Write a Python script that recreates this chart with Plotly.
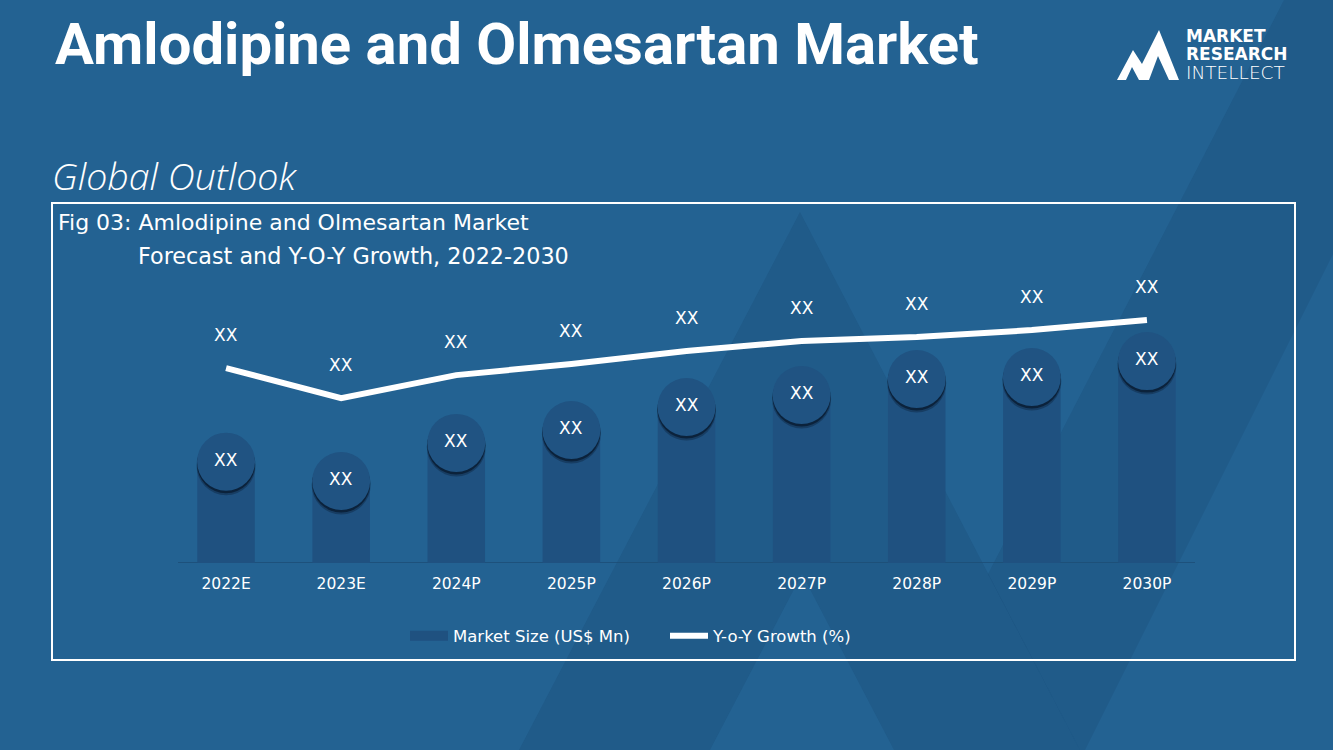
import plotly.graph_objects as go

# ---------------- data ----------------
categories = ["2022E", "2023E", "2024P", "2025P", "2026P", "2027P", "2028P", "2029P", "2030P"]
market_size = [3.62, 2.93, 4.29, 4.75, 5.57, 6.00, 6.57, 6.64, 7.21]
yoy_growth = [6.96, 5.89, 6.71, 7.11, 7.57, 7.93, 8.07, 8.32, 8.68]
bar_labels = ["XX", "XX", "XX", "XX", "XX", "XX", "XX", "XX", "XX"]
growth_labels = ["XX", "XX", "XX", "XX", "XX", "XX", "XX", "XX", "XX"]
series_names = ["Market Size (US$ Mn)", "Y-o-Y Growth (%)"]

W, H = 1333, 750
BG = "#236292"
BAR = "#1f5180"
CIRCLE = "#205382"
FONT = "DejaVu Sans"


def px(x):
    return x / W


def py(y):
    return 1 - y / H


fig = go.Figure()

fig.add_trace(go.Bar(
    x=categories, y=market_size, name=series_names[0], showlegend=False,
    marker=dict(color=BAR, line=dict(width=0)), width=0.5,
    hoverinfo="skip",
))
# legend proxy for the bars (wide flat swatch like the reference)
fig.add_trace(go.Scatter(
    x=[categories[0]], y=[None], name=series_names[0], mode="lines",
    line=dict(color=BAR, width=11), hoverinfo="skip",
))
fig.add_trace(go.Scatter(
    x=categories, y=yoy_growth, name=series_names[1], yaxis="y2",
    mode="lines", line=dict(color="white", width=6),
    hoverinfo="skip",
))

shapes = []


def poly(points):
    return "M " + " L ".join(f"{px(x):.5f},{py(y):.5f}" for x, y in points) + " Z"


# background decoration (watermark-like shapes)
shapes.append(dict(type="path", xref="paper", yref="paper", layer="below",
                   path=poly([(800, 212), (519, 750), (710, 750), (802, 574), (894, 750), (1080, 750)]),
                   fillcolor="rgba(10,30,60,0.10)", line=dict(width=0)))
shapes.append(dict(type="path", xref="paper", yref="paper", layer="below",
                   path=poly([(1284, 0), (1333, 0), (1333, 254), (1085, 750), (1080, 750), (988, 574)]),
                   fillcolor="rgba(10,30,60,0.10)", line=dict(width=0)))

# frame
shapes.append(dict(type="rect", xref="paper", yref="paper", layer="below",
                   x0=px(52), x1=px(1295), y0=py(660), y1=py(203),
                   line=dict(color="white", width=2), fillcolor="rgba(0,0,0,0)"))

# baseline
shapes.append(dict(type="line", xref="paper", yref="y", layer="below",
                   x0=px(178), x1=px(1195), y0=0, y1=0,
                   line=dict(color="#1d4c75", width=1.5)))

# logo mark
shapes.append(dict(type="path", xref="paper", yref="paper",
                   path=poly([(1117, 80), (1133, 50), (1142, 64), (1159, 30), (1179, 80), (1169, 80),
                              (1158, 56), (1149, 80), (1139, 80), (1132, 67), (1126, 80)]),
                   fillcolor="white", line=dict(width=0)))

# circles on top of bars (with a soft shadow)
for c, v in zip(categories, market_size):
    shapes.append(dict(type="circle", xref="x", yref="y", xsizemode="pixel", ysizemode="pixel",
                       xanchor=c, yanchor=v, x0=-29.5, x1=29.5, y0=-33.5, y1=25.5,
                       fillcolor="rgba(8,25,45,0.35)", line=dict(width=0), layer="above"))
    shapes.append(dict(type="circle", xref="x", yref="y", xsizemode="pixel", ysizemode="pixel",
                       xanchor=c, yanchor=v, x0=-29, x1=29, y0=-31.5, y1=26.5,
                       fillcolor="rgba(8,25,45,0.75)", line=dict(width=0), layer="above"))
    shapes.append(dict(type="circle", xref="x", yref="y", xsizemode="pixel", ysizemode="pixel",
                       xanchor=c, yanchor=v, x0=-29, x1=29, y0=-29, y1=29,
                       fillcolor=CIRCLE, line=dict(width=0), layer="above"))

annotations = []
for c, v, t in zip(categories, market_size, bar_labels):
    annotations.append(dict(x=c, y=v, xref="x", yref="y", text=t, showarrow=False,
                            font=dict(family=FONT, size=17, color="white"), yshift=2))
for c, v, t in zip(categories, yoy_growth, growth_labels):
    annotations.append(dict(x=c, y=v, xref="x", yref="y2", text=t, showarrow=False,
                            font=dict(family=FONT, size=17, color="white"), yshift=33))

annotations += [
    dict(x=px(53), y=py(44), xref="paper", yref="paper", xanchor="left", yanchor="middle",
         text="<b>Amlodipine and Olmesartan Market</b>", showarrow=False,
         font=dict(family="Roboto", size=58, color="white")),
    dict(x=px(50), y=py(175), xref="paper", yref="paper", xanchor="left", yanchor="middle",
         text="<i>Global Outlook</i>", showarrow=False,
         font=dict(family="Open Sans", size=37.5, color="white", weight=300)),
    dict(x=px(56), y=py(222), xref="paper", yref="paper", xanchor="left", yanchor="middle",
         text="Fig 03: Amlodipine and Olmesartan Market", showarrow=False,
         font=dict(family=FONT, size=22, color="white")),
    dict(x=px(136), y=py(256), xref="paper", yref="paper", xanchor="left", yanchor="middle",
         text="Forecast and Y-O-Y Growth, 2022-2030", showarrow=False,
         font=dict(family=FONT, size=22.3, color="white")),
    dict(x=px(1184), y=py(36), xref="paper", yref="paper", xanchor="left", yanchor="middle",
         text="<b>MARKET</b>", showarrow=False,
         font=dict(family=FONT, size=17, color="white")),
    dict(x=px(1184), y=py(54), xref="paper", yref="paper", xanchor="left", yanchor="middle",
         text="<b>RESEARCH</b>", showarrow=False,
         font=dict(family=FONT, size=17, color="white")),
    dict(x=px(1184), y=py(73), xref="paper", yref="paper", xanchor="left", yanchor="middle",
         text="INTELLECT", showarrow=False,
         font=dict(family=FONT, size=18.5, color="white", weight=300)),
]

fig.update_layout(
    width=W, height=H,
    margin=dict(l=0, r=0, t=0, b=0),
    paper_bgcolor=BG, plot_bgcolor="rgba(0,0,0,0)",
    showlegend=True,
    legend=dict(orientation="h", x=px(405), xanchor="left", y=py(636), yanchor="middle",
                font=dict(family=FONT, size=16.5, color="white"),
                bgcolor="rgba(0,0,0,0)", itemwidth=38, traceorder="normal",
                entrywidth=207),
    xaxis=dict(domain=[px(168.5), px(1204.5)], type="category", range=[-0.5, 8.5],
               showgrid=False, zeroline=False, showline=False,
               ticks="outside", ticklen=6, tickcolor="rgba(0,0,0,0)",
               tickfont=dict(family=FONT, size=15.5, color="white"),
               fixedrange=True),
    yaxis=dict(domain=[py(563), py(283)], range=[0, 10], visible=False, fixedrange=True),
    yaxis2=dict(domain=[py(563), py(283)], range=[0, 10], visible=False, overlaying="y",
                fixedrange=True),
    shapes=shapes,
    annotations=annotations,
)

fig.write_html("out.html", config={"displayModeBar": False},
               post_script="document.body.style.margin='0px';document.body.style.overflow='hidden';")
